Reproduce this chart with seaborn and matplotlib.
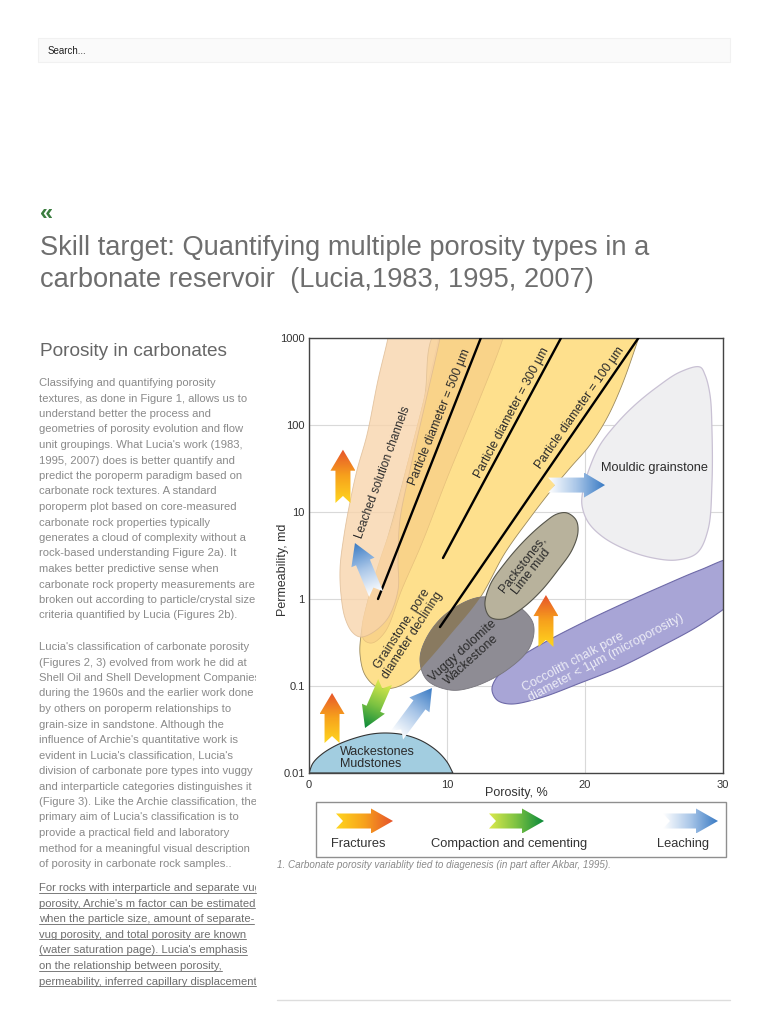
import numpy as np
import pandas as pd
import matplotlib
matplotlib.use("Agg")
import matplotlib.pyplot as plt
import seaborn as sns
from matplotlib.patches import Polygon, Rectangle
from matplotlib.colors import LinearSegmentedColormap
from matplotlib.transforms import Bbox
from matplotlib.ticker import NullLocator

# ======================= DATA =======================
porosity_ticks = [0, 10, 20, 30]
porosity_tick_labels = ["0", "10", "20", "30"]
perm_ticks = [0.01, 0.1, 1, 10, 100, 1000]
perm_tick_labels = ["0.01", "0.1", "1", "10", "100", "1000"]

# particle-diameter trend lines (porosity %, permeability md)
line_names = ["500 µm", "300 µm", "100 µm"]
line_porosity = [[5.0, 12.45], [9.71, 18.26], [9.49, 23.87]]
line_perm = [[1.0, 1000.0], [2.96, 1000.0], [0.476, 1000.0]]

# region outlines (porosity %, permeability md)
peach_porosity = [5.87, 5.72, 5.0, 4.20, 3.48, 2.97, 2.54, 2.25, 2.32, 2.61, 3.12, 3.70,
                  4.57, 5.72, 6.45, 6.45, 6.59, 7.32, 8.48, 9.49, 9.64]
peach_perm = [1410, 1000, 329, 77, 30.4, 13.0, 5.44, 2.27, 1.11, 0.605, 0.418, 0.366,
              0.407, 0.605, 1.27, 2.81, 8.09, 30.4, 194, 1000, 1410]

orange_porosity = [9.57, 9.35, 8.33, 7.03, 6.23, 5.14, 4.28, 3.84, 3.99, 4.57, 5.51, 6.74,
                   8.19, 10.07, 12.25, 13.99, 14.28]
orange_perm = [1410, 924, 194, 30.4, 9.0, 2.81, 0.975, 0.464, 0.338, 0.312, 0.418, 1.30,
               4.40, 25.9, 179, 924, 1410]

yellow_porosity = [9.57, 8.33, 7.03, 5.65, 4.28, 3.77, 3.70, 4.06, 4.93, 6.09, 7.32, 8.41,
                   10.22, 12.39, 14.20, 16.01, 17.46, 18.91, 20.36, 21.59, 22.68, 23.84, 24.20]
yellow_perm = [1410, 194, 30.4, 4.76, 0.975, 0.386, 0.227, 0.134, 0.0974, 0.0948, 0.117, 0.179,
               0.386, 1.03, 3.38, 8.53, 17.0, 32, 59, 120, 288, 949, 1410]

vuggy_porosity = [12.39, 14.78, 16.23, 16.01, 14.35, 11.88, 10.22, 8.55, 8.04, 8.55, 10.0]
vuggy_perm = [1.05, 0.899, 0.530, 0.281, 0.153, 0.0974, 0.0899, 0.117, 0.199, 0.366, 0.690]

pack_porosity = [18.70, 19.35, 19.49, 19.06, 18.04, 16.74, 15.29, 14.06, 13.12, 12.75, 13.12,
                 14.20, 15.65, 17.10, 17.97]
pack_perm = [9.75, 8.09, 5.89, 3.66, 2.15, 1.20, 0.748, 0.589, 0.621, 0.853, 1.45,
             2.59, 4.76, 7.68, 9.48]

mould_porosity = [28.33, 26.88, 25.22, 23.62, 22.32, 21.09, 20.36, 19.86, 19.78, 20.22, 21.30,
                  23.04, 24.93, 26.67, 28.12, 28.91, 29.20, 29.20, 29.06, 28.70]
mould_perm = [464, 406, 273, 170, 105, 59, 33, 17.9, 12.0, 7.68, 5.16,
              3.66, 2.96, 2.81, 3.38, 6.21, 21.5, 88, 221, 376]

cocco_porosity = [13.26, 13.62, 14.57, 16.74, 19.64, 22.54, 25.43, 28.33, 30.87, 32.10, 31.96,
                  30.87, 28.33, 25.43, 22.54, 19.64, 16.74, 14.57, 13.48]
cocco_perm = [0.0899, 0.0691, 0.0621, 0.0728, 0.108, 0.165, 0.281, 0.502, 0.975, 1.65, 2.46,
              2.96, 2.15, 1.37, 0.853, 0.516, 0.296, 0.179, 0.117]

dome_porosity = [0, 0.29, 0.94, 2.03, 3.33, 4.57, 5.72, 6.96, 8.19, 9.28, 10.0, 10.43]
dome_perm = [0.01, 0.013, 0.0165, 0.021, 0.0252, 0.0281, 0.0288, 0.0273, 0.0233, 0.0179, 0.0134, 0.01]

# diagenesis arrows (tail -> tip)
fracture_tail_porosity = [2.46, 1.67, 17.17]
fracture_tail_perm = [12.7, 0.0221, 0.281]
fracture_tip_porosity = [2.46, 1.67, 17.17]
fracture_tip_perm = [52.0, 0.0831, 1.11]

leach_tail_porosity = [4.86, 17.32, 6.38]
leach_tail_perm = [1.14, 20.4, 0.0273]
leach_tip_porosity = [3.33, 21.45, 8.91]
leach_tip_perm = [4.40, 20.4, 0.0948]

compaction_tail_porosity = [5.51]
compaction_tail_perm = [0.111]
compaction_tip_porosity = [4.06]
compaction_tip_perm = [0.0329]

legend_names = ["Fractures", "Compaction and cementing", "Leaching"]

region_labels = ["Leached solution channels", "Particle diameter = 500 µm",
                 "Particle diameter = 300 µm", "Particle diameter = 100 µm",
                 "Mouldic grainstone", "Packstones,\nLime mud", "Vuggy dolomite\nWackestone",
                 "Grainstone, pore\ndiameter declining",
                 "Coccolith chalk pore\ndiameter < 1µm (microporosity)", "Wackestones\nMudstones"]

page_title_lines = ["Skill target: Quantifying multiple porosity types in a",
                    "carbonate reservoir  (Lucia,1983, 1995, 2007)"]
section_title = "Porosity in carbonates"
para1 = ["Classifying and quantifying porosity",
         "textures, as done in Figure 1, allows us to",
         "understand better the process and",
         "geometries of porosity evolution and flow",
         "unit groupings. What Lucia's work (1983,",
         "1995, 2007) does is better quantify and",
         "predict the poroperm paradigm based on",
         "carbonate rock textures. A standard",
         "poroperm plot based on core-measured",
         "carbonate rock properties typically",
         "generates a cloud of complexity without a",
         "rock-based understanding Figure 2a). It",
         "makes better predictive sense when",
         "carbonate rock property measurements are",
         "broken out according to particle/crystal size",
         "criteria quantified by Lucia (Figures 2b)."]
para2 = ["Lucia's classification of carbonate porosity",
         "(Figures 2, 3) evolved from work he did at",
         "Shell Oil and Shell Development Companies",
         "during the 1960s and the earlier work done",
         "by others on poroperm relationships to",
         "grain-size in sandstone. Although the",
         "influence of Archie's quantitative work is",
         "evident in Lucia's classification, Lucia's",
         "division of carbonate pore types into vuggy",
         "and interparticle categories distinguishes it",
         "(Figure 3). Like the Archie classification, the",
         "primary aim of Lucia's classification is to",
         "provide a practical field and laboratory",
         "method for a meaningful visual description",
         "of porosity in carbonate rock samples.."]
para3 = ["For rocks with interparticle and separate vug",
         "porosity, Archie's m factor can be estimated",
         "when the particle size, amount of separate-",
         "vug porosity, and total porosity are known",
         "(water saturation page). Lucia's emphasis",
         "on the relationship between porosity,",
         "permeability, inferred capillary displacement"]
caption = "1. Carbonate porosity variablity tied to diagenesis (in part after Akbar, 1995)."

# ======================= STYLE =======================
sns.set_theme(style="white")
plt.rcParams["font.family"] = ["Liberation Sans", "DejaVu Sans"]

W, H = 768, 1024
fig = plt.figure(figsize=(W / 100, H / 100), dpi=100)
fig.patch.set_facecolor("white")

# background page (pixel coordinates, y down)
bg = fig.add_axes([0, 0, 1, 1], label="page")
bg.set_xlim(0, W); bg.set_ylim(H, 0); bg.axis("off"); bg.set_zorder(0)

# chart axes
L, R, T, B = 309, 723, 338, 773
ax = fig.add_axes([L / W, (H - B) / H, (R - L) / W, (B - T) / H], label="chart")
ax.set_zorder(2)
ax.set_yscale("log")
ax.set_xlim(0, 30)
ax.set_ylim(0.01, 1000)

# overlay (pixel coordinates, y down)
ov = fig.add_axes([0, 0, 1, 1], label="overlay")
ov.set_xlim(0, W); ov.set_ylim(H, 0); ov.axis("off"); ov.set_zorder(3)
ov.patch.set_alpha(0)
ov.set_autoscale_on(False)


def catmull(P, closed=True, n=14):
    P = np.asarray(P, float)
    if closed:
        ext = np.vstack([P[-1], P, P[0], P[1]])
    else:
        ext = np.vstack([2 * P[0] - P[1], P, 2 * P[-1] - P[-2]])
    out = []
    for i in range(len(ext) - 3):
        p0, p1, p2, p3 = ext[i:i + 4]
        t0 = 0.0
        t1 = t0 + max(np.linalg.norm(p1 - p0), 1e-6) ** 0.5
        t2 = t1 + max(np.linalg.norm(p2 - p1), 1e-6) ** 0.5
        t3 = t2 + max(np.linalg.norm(p3 - p2), 1e-6) ** 0.5
        t = np.linspace(t1, t2, n, endpoint=False)[:, None]
        A1 = (t1 - t) / (t1 - t0) * p0 + (t - t0) / (t1 - t0) * p1
        A2 = (t2 - t) / (t2 - t1) * p1 + (t - t1) / (t2 - t1) * p2
        A3 = (t3 - t) / (t3 - t2) * p2 + (t - t2) / (t3 - t2) * p3
        B1 = (t2 - t) / (t2 - t0) * A1 + (t - t0) / (t2 - t0) * A2
        B2 = (t3 - t) / (t3 - t1) * A2 + (t - t1) / (t3 - t1) * A3
        out.append((t2 - t) / (t2 - t1) * B1 + (t - t1) / (t2 - t1) * B2)
    if not closed:
        out.append(P[-1][None, :])
    return np.vstack(out)


def region(xs, ys, closed=True, **kw):
    disp = ax.transData.transform(np.column_stack([xs, ys]))
    sm = catmull(disp, closed=closed)
    d = ax.transData.inverted().transform(sm)
    return ax.fill(d[:, 0], d[:, 1], **kw)[0]


# grid
ax.grid(True, color="#d9d9d9", lw=0.8, zorder=0.5)
ax.set_axisbelow(True)
ax.yaxis.set_minor_locator(NullLocator())

yellow = region(yellow_porosity, yellow_perm, facecolor="#fee08d", edgecolor="#9c8a5c", lw=0.6, zorder=2)
region(orange_porosity, orange_perm, facecolor="#f9d389", edgecolor="#e6c07c", lw=0.5, zorder=2.1)
region(peach_porosity, peach_perm, facecolor="#f8d4ab", alpha=0.78, edgecolor="#dcb890", lw=0.6, zorder=2.2)
region(mould_porosity, mould_perm, facecolor="#efeff1", edgecolor="#c9c1d4", lw=0.9, zorder=2.2)
region(cocco_porosity, cocco_perm, facecolor="#a8a5d6", edgecolor="#6e6aa8", lw=0.8, zorder=2.2)
region(vuggy_porosity, vuggy_perm, facecolor="#8e8c94", edgecolor="#77757c", lw=0.6, zorder=2.4)
vb = region(vuggy_porosity, vuggy_perm, facecolor="#897a60", edgecolor="none", zorder=2.45)
vb.set_clip_path(yellow)
region(pack_porosity, pack_perm, facecolor="#b8b29c", edgecolor="#55544a", lw=0.8, zorder=2.6)
dome = region(dome_porosity, dome_perm, closed=False, facecolor="#a2cde0", edgecolor="#333333", lw=0.8, zorder=2.3)

# particle-diameter lines via seaborn
lines_df = pd.DataFrame({
    "porosity": [v for pl in line_porosity for v in pl],
    "permeability": [v for pl in line_perm for v in pl],
    "line": [nm for nm, pl in zip(line_names, line_porosity) for _ in pl],
})
for nm in line_names:
    sub = lines_df[lines_df["line"] == nm]
    sns.lineplot(data=sub, x="porosity", y="permeability", ax=ax, color="black",
                 lw=1.7, estimator=None, sort=False, zorder=4)

# axes styling
ax.set_xticks(porosity_ticks)
ax.set_xticklabels(porosity_tick_labels)
ax.set_yticks(perm_ticks)
ax.set_yticklabels(perm_tick_labels)
ax.yaxis.set_minor_locator(NullLocator())
ax.set_xlim(0, 30); ax.set_ylim(0.01, 1000)
ax.tick_params(axis="both", length=0, labelsize=8, labelcolor="#333333")
ax.tick_params(axis="y", pad=3)
ax.tick_params(axis="x", pad=5)
ax.set_xlabel(""); ax.set_ylabel("")
for s in ax.spines.values():
    s.set_color("#444444"); s.set_linewidth(1.0); s.set_visible(True)
ax.text(0.5, -0.046, "Porosity, %", transform=ax.transAxes, ha="center", va="center",
        fontsize=9, color="#333333")
ax.text(-0.063, 0.467, "Permeability, md", transform=ax.transAxes, ha="center", va="center",
        rotation=90, fontsize=9, color="#333333")

# region labels
lab_pos = [(5.36, 28.8, 70), (9.49, 124, 68), (14.71, 137, 62), (19.64, 157, 55),
           (25.07, 32, 0), (15.80, 2.27, 52), (11.45, 0.227, 42), (7.10, 0.418, 57),
           (21.30, 0.24, 28), (2.25, 0.0149, 0)]
lab_size = [8.5, 8.7, 8.7, 8.7, 9.2, 9, 9, 8.9, 9, 9]
for i, (txt, (x, y, r), fs) in enumerate(zip(region_labels, lab_pos, lab_size)):
    col = "#ececf6" if i == 8 else "#2b2b2b"
    ha = "left" if i == 9 else "center"
    ma = "left" if i in (8, 9) else "center"
    ax.text(x, y, txt, rotation=r, ha=ha, va="center", multialignment=ma, fontsize=fs,
            color=col, linespacing=1.0, zorder=5)


# gradient arrows
def to_px(x, y):
    d = ax.transData.transform((x, y))
    return np.array([d[0], H - d[1]])


def grad_arrow(tail, tip, colors, sw=15, hw=25, hl=21, notch=7):
    tail = np.asarray(tail, float); tip = np.asarray(tip, float)
    d = tip - tail; Ln = np.hypot(*d); u = d / Ln; nrm = np.array([-u[1], u[0]])
    P = lambda a, b: tail + a * u + b * nrm
    pts = np.array([P(0, sw / 2), P(Ln - hl, sw / 2), P(Ln - hl, hw / 2), P(Ln, 0),
                    P(Ln - hl, -hw / 2), P(Ln - hl, -sw / 2), P(0, -sw / 2), P(notch, 0)])
    poly = Polygon(pts, closed=True, facecolor="none", edgecolor="none", zorder=6)
    ov.add_patch(poly)
    x0, x1 = pts[:, 0].min(), pts[:, 0].max()
    y0, y1 = pts[:, 1].min(), pts[:, 1].max()
    gx, gy = np.meshgrid(np.linspace(x0, x1, 120), np.linspace(y0, y1, 120))
    t = ((gx - tail[0]) * u[0] + (gy - tail[1]) * u[1]) / Ln
    cmap = LinearSegmentedColormap.from_list("g", colors)
    im = ov.imshow(t, extent=[x0, x1, y0, y1], origin="lower", cmap=cmap, vmin=0, vmax=1,
                   aspect="auto", interpolation="bilinear", zorder=5)
    im.set_clip_path(poly)


frac_cols = ["#ffd51f", "#f7a21c", "#e6532b"]
comp_cols = ["#dbe94c", "#7cc242", "#0b8a3a"]
leach_cols = ["#ffffff", "#a9c6e8", "#3a7bc4"]

for tx, ty, hx, hy in zip(fracture_tail_porosity, fracture_tail_perm, fracture_tip_porosity, fracture_tip_perm):
    grad_arrow(to_px(tx, ty), to_px(hx, hy), frac_cols)
for tx, ty, hx, hy in zip(leach_tail_porosity, leach_tail_perm, leach_tip_porosity, leach_tip_perm):
    grad_arrow(to_px(tx, ty), to_px(hx, hy), leach_cols)
for tx, ty, hx, hy in zip(compaction_tail_porosity, compaction_tail_perm, compaction_tip_porosity, compaction_tip_perm):
    grad_arrow(to_px(tx, ty), to_px(hx, hy), comp_cols)

# legend box
ov.add_patch(Rectangle((316, 802), 410, 55, facecolor="white", edgecolor="#8f8f8f", lw=1.0, zorder=4))
leg_x = [(336, 393), (489, 544), (663, 718)]
leg_lab_x = [358, 509, 683]
for (a, b), cols, nm, lx in zip(leg_x, [frac_cols, comp_cols, leach_cols], legend_names, leg_lab_x):
    grad_arrow((a, 821), (b, 821), cols, sw=15, hw=25, hl=22, notch=7)
    ov.text(lx, 844, nm, ha="center", va="center", fontsize=9.3, color="#333333", zorder=7)

ov.set_xlim(0, W); ov.set_ylim(H, 0)

# ======================= PAGE =======================
bg.add_patch(Rectangle((38, 38), 692, 24, facecolor="#fafafa", edgecolor="#f1f1f1", lw=0.8))
bg.text(48, 51, "Search...", fontsize=7, color="#222222", va="center", ha="left")
bg.text(40, 213, "«", fontsize=17, color="#3b7d3f", fontweight="bold", va="center", ha="left")
for i, s in enumerate(page_title_lines):
    bg.text(40, 248 + 32 * i, s, fontsize=19.6, color="#6e6e6e", va="center", ha="left")
bg.text(40, 351, section_title, fontsize=13.7, color="#666666", va="center", ha="left")

clip = Bbox.from_extents(0, 0, 256, H)
step = 15.5
body_texts = []
for i, s in enumerate(para1):
    t = bg.text(39, 383 + 3 + i * step, s, fontsize=8.1, color="#8a8a8a", va="baseline", ha="left")
    body_texts.append(t)
for i, s in enumerate(para2):
    t = bg.text(39, 647 + 3 + i * step, s, fontsize=8.1, color="#8a8a8a", va="baseline", ha="left")
    body_texts.append(t)
p3 = []
for i, s in enumerate(para3):
    t = bg.text(39, 888 + 3 + i * 15.6, s, fontsize=8.1, color="#6f6f6f", va="baseline", ha="left")
    body_texts.append(t); p3.append((t, 888 + 3 + i * 15.6))
for t in body_texts:
    t.set_clip_box(clip); t.set_clip_on(True)

bg.text(277, 865, caption, fontsize=7.1, color="#8a8a8a", style="italic", va="center", ha="left")
bg.plot([277, 730], [1000, 1000], color="#dddddd", lw=1)

fig.canvas.draw()
rend = fig.canvas.get_renderer()
for t, base in p3:
    bb = t.get_window_extent(renderer=rend)
    bg.plot([bb.x0, min(bb.x1, 256)], [base + 1.6, base + 1.6], color="#7a7a7a", lw=0.7)

fig.savefig("out.png", dpi=100, facecolor="white")
